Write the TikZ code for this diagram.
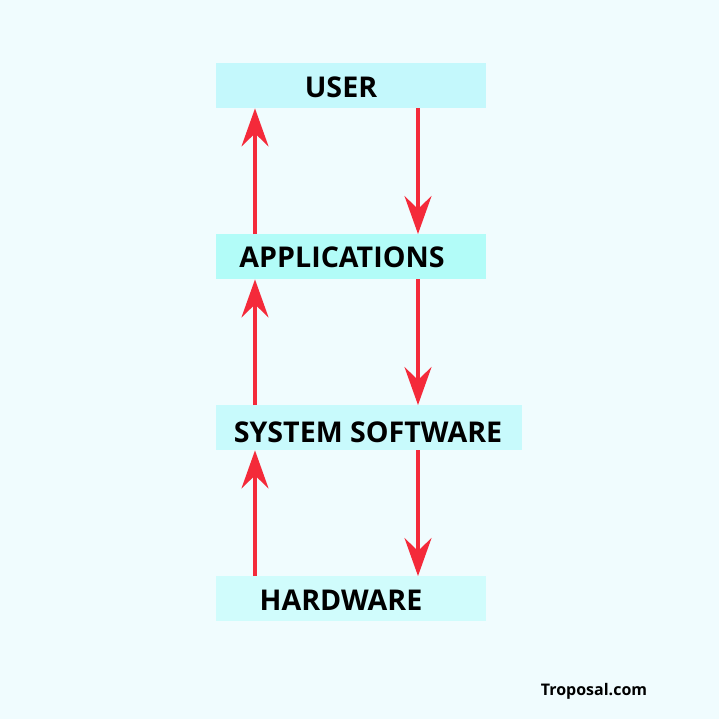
\documentclass[tikz,border=0pt]{standalone}
\usepackage{fontspec}
\setmainfont{Open Sans}
\usetikzlibrary{arrows.meta}
\definecolor{bgc}{HTML}{F0FCFE}
\definecolor{boxa}{HTML}{C4F8FC}
\definecolor{boxb}{HTML}{B2FCF8}
\definecolor{boxc}{HTML}{C8FAFC}
\definecolor{boxd}{HTML}{D0FCFC}
\definecolor{arr}{HTML}{F42A3A}
\tikzset{
  layerbox/.style={anchor=north west, inner sep=0pt, minimum height=45pt},
  layertext/.style={font=\fontsize{28.6}{31}\selectfont\bfseries, text=black, inner sep=0pt},
  flow/.style={draw=arr, line width=3.2pt, -{Stealth[length=38pt, width=27pt, inset=13pt]}}
}
\begin{document}
\begin{tikzpicture}[x=1pt, y=-1pt]
\fill[bgc] (0,0) rectangle (719,719);
\useasboundingbox (0,0) rectangle (719,719);
\node[layerbox, fill=boxa, minimum width=270pt] (user) at (216,63) {};
\node[layerbox, fill=boxb, minimum width=270pt] (app) at (216,234) {};
\node[layerbox, fill=boxc, minimum width=306pt] (sys) at (216,405) {};
\node[layerbox, fill=boxd, minimum width=270pt] (hw) at (216,576) {};
\node[layertext] (tuser) at (341,87) {USER};
\node[layertext] (tapp) at (342,257) {APPLICATIONS};
\node[layertext] (tsys) at (368,432) {SYSTEM SOFTWARE};
\node[layertext] (thw) at (341,600) {HARDWARE};
\draw[flow] (app.north west -| 255,0) -- (user.south west -| 255,0);
\draw[flow] (user.south west -| 418,0) -- (app.north west -| 418,0);
\draw[flow] (sys.north west -| 255,0) -- (app.south west -| 255,0);
\draw[flow] (app.south west -| 418,0) -- (sys.north west -| 418,0);
\draw[flow] (hw.north west -| 255,0) -- (sys.south west -| 255,0);
\draw[flow] (sys.south west -| 418,0) -- (hw.north west -| 418,0);
\node[font=\fontsize{16}{19}\selectfont\bfseries, inner sep=0pt] (mark) at (594,691) {Troposal.com};
\end{tikzpicture}
\end{document}
